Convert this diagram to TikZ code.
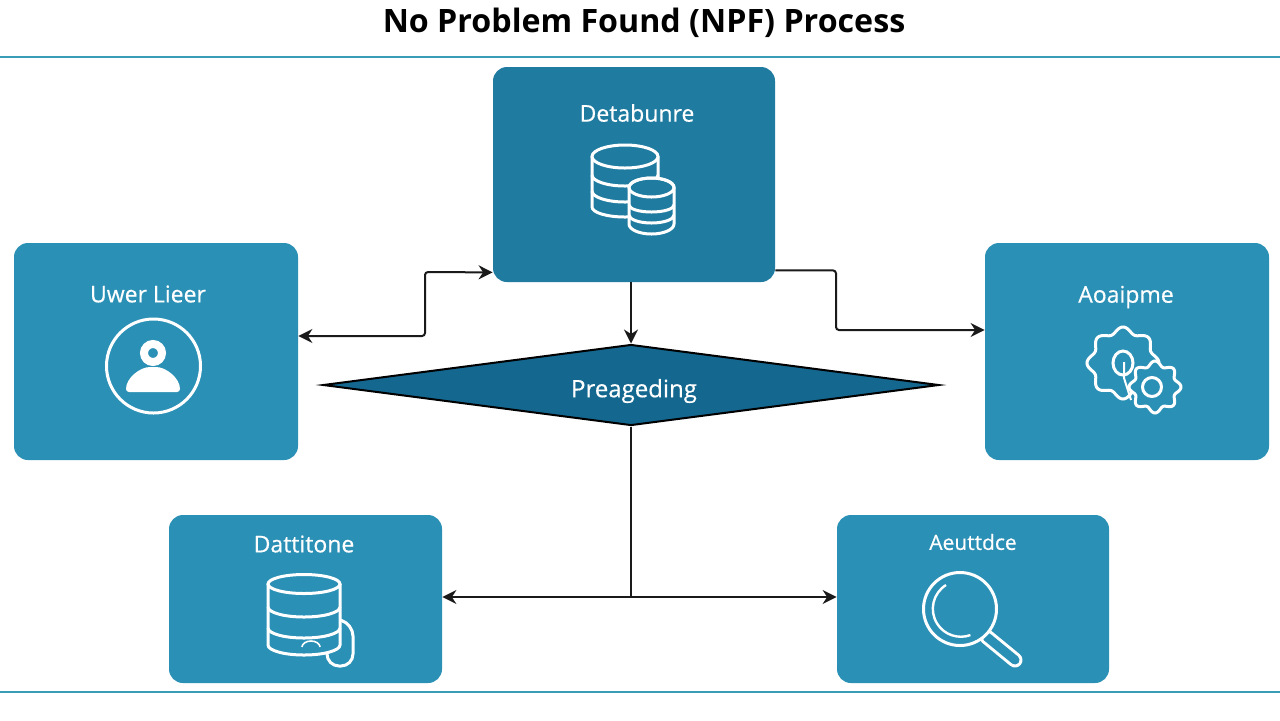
\documentclass[tikz,border=0pt]{standalone}
\usepackage{fontspec}
\setmainfont{Open Sans}
\newfontfamily\lblfont[FakeBold=0.5]{Open Sans}
\usetikzlibrary{arrows.meta,shapes.geometric,calc}
\definecolor{boxblue}{HTML}{2A90B5}
\definecolor{boxdeep}{HTML}{1F7BA0}
\definecolor{diamondblue}{HTML}{14678F}
\definecolor{rulecol}{HTML}{3A9DB8}
\definecolor{linecol}{HTML}{1A1A1A}
\tikzset{
  card/.style={rounded corners=7pt,fill=boxblue,draw=none,inner sep=0pt},
  cardlabel/.style={text=white,font=\lblfont\fontsize{11.5}{14}\selectfont,inner sep=0pt},
  icon/.style={draw=white,line width=1.5pt},
  conn/.style={draw=linecol,line width=1pt,rounded corners=1.5pt},
  tip/.style={-{Stealth[length=7pt,width=7pt]}},
  bothtips/.style={{Stealth[length=7pt,width=7pt]}-{Stealth[length=7pt,width=7pt]}},
  rulebar/.style={draw=rulecol,line width=1pt}
}
\begin{document}
\begin{tikzpicture}[x=0.5pt,y=-0.5pt]
\useasboundingbox (0,0) rectangle (1280,720);
\fill[white] (0,0) rectangle (1280,720);
% title and rules
\node[inner sep=0pt,font=\fontsize{16.1}{18}\selectfont\bfseries,text=black] (title) at (644,23) {No Problem Found (NPF) Process};
\coordinate (ruleAa) at (0,57); \coordinate (ruleAb) at (1280,57);
\coordinate (ruleBa) at (0,692); \coordinate (ruleBb) at (1280,692);
\draw[rulebar] (ruleAa) -- (ruleAb);
\draw[rulebar] (ruleBa) -- (ruleBb);
% boxes
\node[card,fill=boxdeep,minimum width=141pt,minimum height=107.5pt] (db) at (634,174.5) {};
\node[card,minimum width=142pt,minimum height=108.5pt] (user) at (156,351.5) {};
\node[card,minimum width=142pt,minimum height=108.5pt] (app) at (1127,351.5) {};
\node[card,minimum width=136.5pt,minimum height=84pt] (store) at (305.5,599) {};
\node[card,minimum width=136pt,minimum height=84pt] (audit) at (973,599) {};
\node[diamond,fill=diamondblue,draw=black,line width=1pt,inner sep=0pt,minimum width=308pt,minimum height=40.5pt,shape aspect=7.6] (proc) at (631,385) {};
% labels
\node[cardlabel] (dbl) at (637,113) {Detabunre};
\node[cardlabel] (userl) at (148,294) {Uwer Lieer};
\node[cardlabel] (appl) at (1126,297) {Aoaipme};
\node[cardlabel,font=\lblfont\fontsize{12}{14}\selectfont] (procl) at (634,391) {Preageding};
\node[cardlabel] (storel) at (304,544) {Dattitone};
\node[cardlabel,font=\lblfont\fontsize{10.5}{14}\selectfont] (auditl) at (973,542) {Aeuttdce};
% connectors
\coordinate (bendA) at (425,272);
\coordinate (bendB) at (836,330);
\draw[conn,bothtips] ([yshift=7.75pt]user.east) -| (bendA) -- ([yshift=5pt]db.south west);
\draw[conn,tip] (proc.north |- db.south) -- (proc.north);
\draw[conn,tip] ([yshift=6pt]db.south east) -| (bendB) -- ([yshift=10.75pt]app.west);
\coordinate (split) at (631,597);
\draw[conn] (proc.south) -- (split);
\draw[conn,tip] (split) -- (store.east |- split);
\draw[conn,tip] (split) -- (audit.west |- split);
% database icon
\begin{scope}[icon]
\draw (592,156.5) -- (592,207) arc[start angle=180,end angle=0,x radius=33,y radius=10] -- (658,156.5);
\draw (625,156.5) ellipse [x radius=33,y radius=11.5];
\draw (592,175) arc[start angle=180,end angle=0,x radius=33,y radius=11];
\draw (592,191) arc[start angle=180,end angle=0,x radius=33,y radius=11];
\filldraw[fill=boxdeep] (629,187.5) -- (629,224) arc[start angle=180,end angle=0,x radius=22.5,y radius=10] -- (674,187.5) arc[start angle=0,end angle=-180,x radius=22.5,y radius=9.5] -- cycle;
\draw (651.5,187.5) ellipse [x radius=22.5,y radius=9.5];
\draw (629,205) arc[start angle=180,end angle=0,x radius=22.5,y radius=7];
\draw (629,215) arc[start angle=180,end angle=0,x radius=22.5,y radius=8];
\end{scope}
% user icon
\draw[icon] (153.5,366) circle [radius=47];
\draw[icon,line width=4pt] (153,353) circle [radius=9];
\fill[white,rounded corners=1.5pt] (126,392) .. controls (126,378) and (140,367) .. (153,367) .. controls (166,367) and (180,378) .. (180,392) -- cycle;
% gears
\draw[icon] plot[domain=0:360,samples=145,smooth] ({1123+(33+3*cos(8*\x))*cos(\x)},{363+(33+3*cos(8*\x))*sin(\x)});
\filldraw[icon,fill=boxblue] plot[domain=0:360,samples=145,smooth] ({1155+(23.5+2.5*cos(8*\x))*cos(\x)},{387+(23.5+2.5*cos(8*\x))*sin(\x)});
\draw[icon] (1123,363) ellipse [x radius=10,y radius=12];
\draw[icon] (1152,387) circle [radius=9.5];
\draw[icon,line width=1pt] (1124,362) -- (1124,378) -- (1131,400);
% store icon
\begin{scope}[icon]
\draw[rounded corners=6pt] (340,620) -- (353,624) -- (353,666) -- (327,666) -- (327,652);
\draw (268,584) -- (268,645) arc[start angle=180,end angle=0,x radius=36,y radius=10] -- (340,584);
\draw (304,584) ellipse [x radius=36,y radius=9.5];
\draw (268,607) arc[start angle=180,end angle=0,x radius=36,y radius=10];
\draw (268,628) arc[start angle=180,end angle=0,x radius=36,y radius=10];
\draw[line width=.8pt] (302,647) arc[start angle=180,end angle=360,x radius=9,y radius=6];
\end{scope}
% magnifier icon
\draw[white,line width=7.5pt,line cap=round] (987,637) -- (1015,660);
\draw[boxblue,line width=4.5pt,line cap=round] (987,637) -- (1015,660);
\filldraw[icon,fill=boxblue] (960,609) circle [radius=36.5];
\draw[icon,line width=1.2pt] (946,585) arc[start angle=238,end angle=70,radius=28];
\end{tikzpicture}
\end{document}
